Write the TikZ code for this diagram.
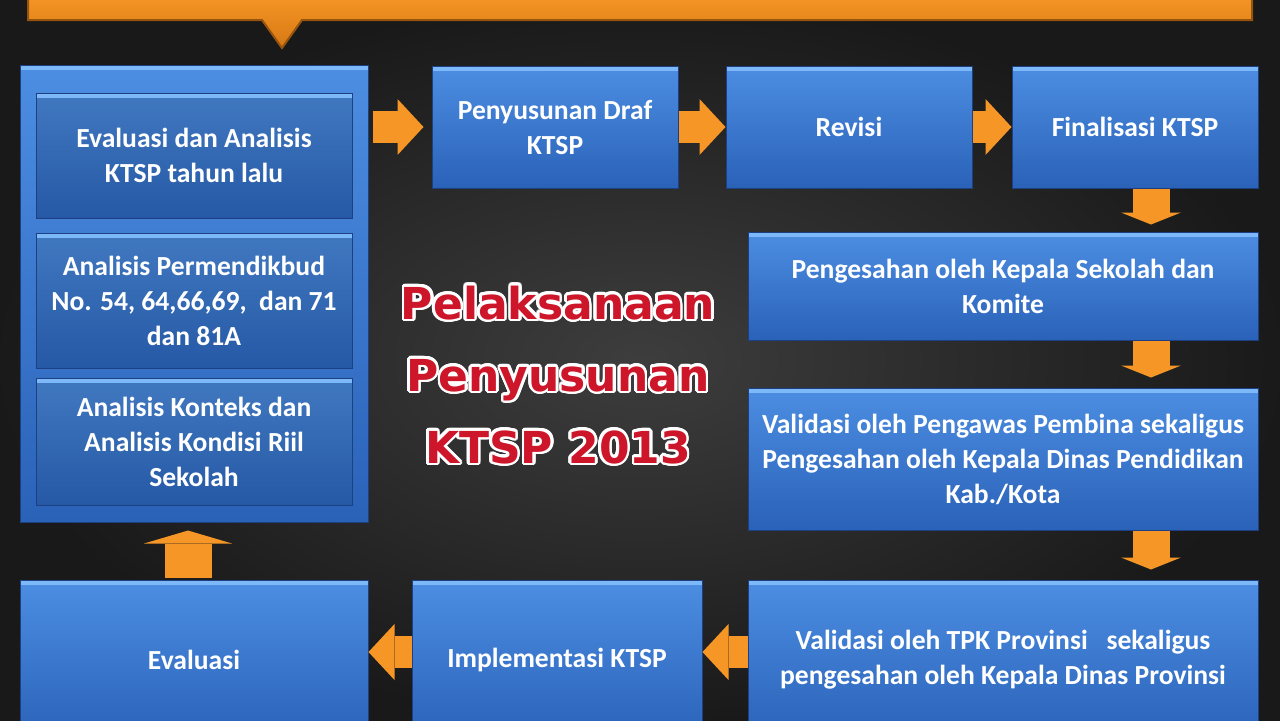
\documentclass[tikz,border=0pt]{standalone}
\usepackage{fontspec}
\usepackage{contour}
\usetikzlibrary{positioning,arrows.meta}
\newfontfamily\carlito{Carlito}
\newfontfamily\dejavu{DejaVu Sans}
\definecolor{biruA}{RGB}{76,142,226}
\definecolor{biruB}{RGB}{42,98,184}
\definecolor{biruT}{RGB}{125,185,248}
\definecolor{biruC}{RGB}{28,64,130}
\definecolor{oranye}{RGB}{246,150,38}
\definecolor{oranyeB}{RGB}{214,120,20}
\definecolor{merah}{RGB}{205,22,42}
\contourlength{1.3pt}
\contournumber{24}

\tikzset{
  kotak/.style={rectangle, top color=biruA, bottom color=biruB, draw=biruC, line width=.5pt,
    text=white, align=center, font=\carlito\bfseries\fontsize{13.8}{17.5}\selectfont,
    path picture={\fill[biruT] (path picture bounding box.north west) rectangle ([yshift=-2.5pt]path picture bounding box.north east);}},
  kotakdalam/.style={kotak, top color=biruA!85!black, bottom color=biruB!90!black, minimum width=158pt},
  judul/.style={text=merah, align=center, font=\dejavu\bfseries\fontsize{22}{36}\selectfont},
  panahH/.style={draw=oranye, line width=16pt, line cap=butt,
    -{Triangle[width=28pt,length=13pt,line width=0pt,fill=oranye]}},
  panahV/.style={draw=oranye, line width=18.5pt, line cap=butt,
    -{Triangle[width=30pt,length=6pt,line width=0pt,fill=oranye]}},
  panahN/.style={draw=oranye, line width=23.5pt, line cap=butt,
    -{Triangle[width=44pt,length=6.5pt,line width=0pt,fill=oranye]}},
}

\begin{document}
\begin{tikzpicture}[x=0.5pt, y=-0.5pt]
  \useasboundingbox (0,0) rectangle (1280,720);
  \fill[inner color=black!76, outer color=black!90] (0,0) rectangle (1280,720);
  % orange bar at the top
  \draw[top color=oranye, bottom color=oranyeB, draw=oranyeB!70!black, line width=1pt]
    (28,-5) -- (1252,-5) -- (1252,20) -- (302,20) -- (282,48) -- (262,20) -- (28,20) -- cycle;

  % left column
  \node[kotak, minimum width=174pt, minimum height=228.5pt] (kiri) at (194,293.5) {};
  \node[kotakdalam, minimum height=62.5pt] (evaluasi1) at (194,155.5) {Evaluasi dan Analisis\\KTSP tahun lalu};
  \node[kotakdalam, minimum height=67.5pt] (analisis2) at (194,300.5) {Analisis Permendikbud\\No. 54, 64,66,69,~ dan 71\\dan 81A};
  \node[kotakdalam, minimum height=63.5pt] (analisis3) at (194,441.5) {Analisis Konteks dan\\Analisis Kondisi Riil\\Sekolah};

  % top row
  \node[kotak, minimum width=123pt, minimum height=61pt] (draf)   at (555,127)  {Penyusunan Draf\\KTSP};
  \node[kotak, minimum width=123pt, minimum height=61pt] (revisi) at (849,127)  {Revisi};
  \node[kotak, minimum width=123pt, minimum height=61pt] (final)  at (1135,127) {Finalisasi KTSP};

  % right column
  \node[kotak, minimum width=255pt, minimum height=54pt] (sah)  at (1003,286) {Pengesahan oleh Kepala Sekolah dan\\Komite};
  \node[kotak, minimum width=255pt, minimum height=71pt] (val1) at (1003,459) {Validasi oleh Pengawas Pembina sekaligus\\Pengesahan oleh Kepala Dinas Pendidikan\\Kab./Kota};
  \node[kotak, minimum width=255pt, minimum height=80pt] (val2) at (1003,660) {Validasi oleh TPK Provinsi~~ sekaligus\\pengesahan oleh Kepala Dinas Provinsi};

  % bottom row
  \node[kotak, minimum width=145pt, minimum height=80pt] (impl)  at (557,660) {Implementasi KTSP};
  \node[kotak, minimum width=174pt, minimum height=80pt] (evalu) at (194,660) {Evaluasi};

  \node[judul] (judul) at (558,376) {\contour{white}{Pelaksanaan}\\\contour{white}{Penyusunan}\\\contour{white}{KTSP 2013}};

  % arrows
  \coordinate (ka) at (1151,0);
  \coordinate (ki) at (188,0);
  \coordinate (kiriKanan) at (kiri.east |- draf);
  \path (kiriKanan) edge[panahH, shorten <=2pt, shorten >=4pt] (draf.west)
    (draf) edge[panahH] (revisi)
    (revisi) edge[panahH] (final)
    ([yshift=4pt]val2.west) edge[panahH] ([yshift=4pt]impl.east)
    ([yshift=4pt]impl.west) edge[panahH] ([yshift=4pt]evalu.east);
  \path (final.south -| ka) edge[panahV, shorten >=3.5pt] (sah.north -| ka)
    (sah.south -| ka) edge[panahV, shorten >=5pt] (val1.north -| ka)
    (val1.south -| ka) edge[panahV, shorten >=5pt] (val2.north -| ka)
    (evalu.north -| ki) edge[panahN, shorten <=1pt, shorten >=4pt] (kiri.south -| ki);
\end{tikzpicture}
\end{document}
